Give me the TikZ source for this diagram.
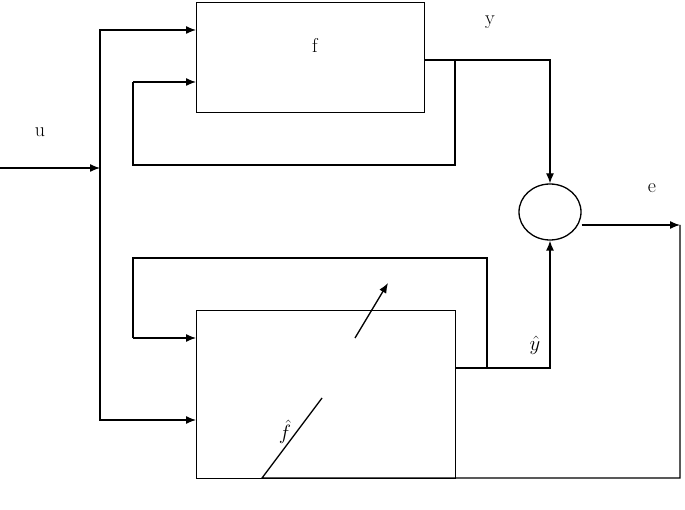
\documentclass[tikz,border=0pt]{standalone}
\usetikzlibrary{arrows.meta,shapes.geometric}
\begin{document}
\begin{tikzpicture}[x=1pt,y=-1pt,line width=1.3pt,
  arr/.style={-{Latex[length=10pt,width=8pt]}},
  lbl/.style={font=\fontsize{20}{22}\selectfont}]
\useasboundingbox (0,0) rectangle (685,510);
\node[draw,minimum width=228pt,minimum height=110pt,inner sep=0,anchor=north west] (f) at (196,2) {};
\node[lbl] (fl) at (315,45) {f};
\node[draw,minimum width=259pt,minimum height=168pt,inner sep=0,anchor=north west] (fh) at (196,310) {};
\node[draw,ellipse,minimum width=62pt,minimum height=56pt,inner sep=0] (s) at (550,212) {};
\coordinate (uin) at (0,168);
\coordinate (j) at (100,168);
\draw[arr] (uin) -- (j);
\node[lbl] at (40,132) {u};
\draw[arr] (j) |- (196,30);
\draw[arr] (j) |- (196,420);
\draw (424,60) -- (455,60) -- (455,165) -- (133,165) -- (133,82);
\draw[arr] (133,82) -- (196,82);
\draw[arr] (424,60) -| (s.north);
\node[lbl] at (490,22) {y};
\draw (455,368) -- (487,368) -- (487,258) -- (133,258) -- (133,338);
\draw[arr] (133,338) -- (196,338);
\draw[arr] (455,368) -| (s.south);
\node[lbl] at (535,345) {$\hat{y}$};
\coordinate (ee) at (680,225);
\draw[arr] (s.east |- 0,225) -- (ee);
\node[lbl] at (652,188) {e};
\draw (ee) -- (680,478) -- (262,478) -- (322,398);
\node[lbl] at (285,432) {$\hat{f}$};
\draw[arr] (355,338) -- (388,283);
\end{tikzpicture}
\end{document}
